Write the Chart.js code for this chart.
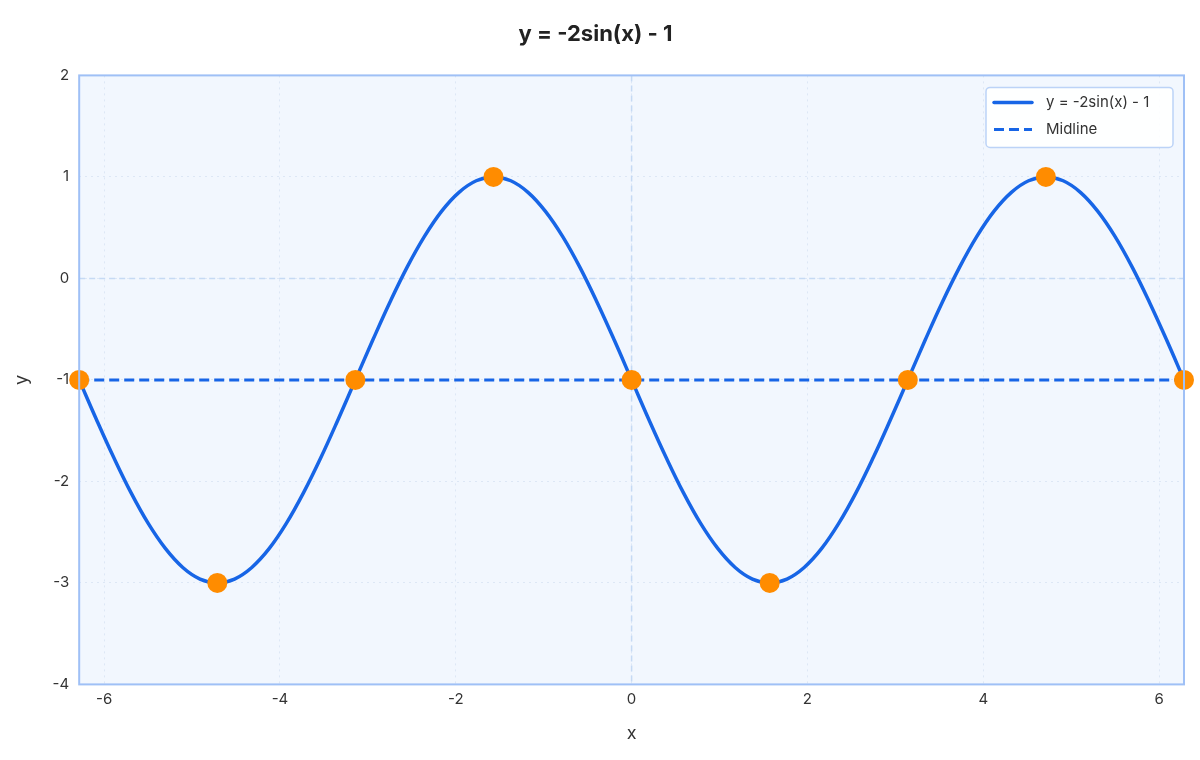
<!DOCTYPE html>
<html>
<head>
<meta charset="utf-8">
<script src="https://cdn.jsdelivr.net/npm/chart.js@4.4.1/dist/chart.umd.min.js"></script>
<style>
  html, body { margin: 0; padding: 0; background: #fff; }
  #wrap { width: 1200px; height: 760px; }
</style>
</head>
<body>
<div id="wrap"><canvas id="c" width="1200" height="760"></canvas></div>
<script>
// curve samples, x in steps of about pi/16
const curveX = [-6.283, -6.087, -5.890, -5.694, -5.498, -5.301, -5.105, -4.909, -4.712, -4.516, -4.320, -4.123, -3.927, -3.731, -3.534, -3.338,
  -3.142, -2.945, -2.749, -2.553, -2.356, -2.160, -1.963, -1.767, -1.571, -1.374, -1.178, -0.982, -0.785, -0.589, -0.393, -0.196,
  0, 0.196, 0.393, 0.589, 0.785, 0.982, 1.178, 1.374, 1.571, 1.767, 1.963, 2.160, 2.356, 2.553, 2.749, 2.945,
  3.142, 3.338, 3.534, 3.731, 3.927, 4.123, 4.320, 4.516, 4.712, 4.909, 5.105, 5.301, 5.498, 5.694, 5.890, 6.087, 6.283];
const curveY = [-1, -1.390, -1.765, -2.111, -2.414, -2.663, -2.848, -2.962, -3, -2.962, -2.848, -2.663, -2.414, -2.111, -1.765, -1.390,
  -1, -0.610, -0.235, 0.111, 0.414, 0.663, 0.848, 0.962, 1, 0.962, 0.848, 0.663, 0.414, 0.111, -0.235, -0.610,
  -1, -1.390, -1.765, -2.111, -2.414, -2.663, -2.848, -2.962, -3, -2.962, -2.848, -2.663, -2.414, -2.111, -1.765, -1.390,
  -1, -0.610, -0.235, 0.111, 0.414, 0.663, 0.848, 0.962, 1, 0.962, 0.848, 0.663, 0.414, 0.111, -0.235, -0.610, -1];

// orange key points
const keyX = [-6.283, -4.712, -3.142, -1.571, 0, 1.571, 3.142, 4.712, 6.283];
const keyY = [-1, -3, -1, 1, -1, -3, -1, 1, -1];

// midline
const midX = [-6.283, 6.283];
const midY = [-1, -1];

const xTicks = [-6, -4, -2, 0, 2, 4, 6];
const yTicks = [-4, -3, -2, -1, 0, 1, 2];

const labels = ['y = -2sin(x) - 1', 'Midline'];

const blue = '#1765e6';
const font = 'Inter, "DejaVu Sans", sans-serif';

function pts(xs, ys) { return xs.map((x, i) => ({ x: x, y: ys[i] })); }

const areaPlugin = {
  id: 'area',
  beforeDatasetsDraw(chart) {
    const { ctx, chartArea: a, scales } = chart;
    ctx.save();
    // zero axis lines
    ctx.strokeStyle = '#c6daf4';
    ctx.lineWidth = 1.5;
    ctx.setLineDash([6, 4]);
    const x0 = scales.x.getPixelForValue(0);
    const y0 = scales.y.getPixelForValue(0);
    ctx.beginPath();
    ctx.moveTo(x0, a.top); ctx.lineTo(x0, a.bottom);
    ctx.moveTo(a.left, y0); ctx.lineTo(a.right, y0);
    ctx.stroke();
    ctx.restore();
  },
  beforeDraw(chart) {
    const { ctx, chartArea: a } = chart;
    ctx.save();
    ctx.fillStyle = '#f2f7fe';
    ctx.fillRect(a.left, a.top, a.right - a.left, a.bottom - a.top);
    ctx.restore();
  },
  afterDraw(chart) {
    const { ctx, chartArea: a } = chart;
    ctx.save();
    ctx.strokeStyle = '#9fc0f6';
    ctx.lineWidth = 2;
    ctx.strokeRect(a.left, a.top, a.right - a.left, a.bottom - a.top);

    // legend box
    const w = 187, h = 60;
    const lx = a.right - 11 - w, ly = a.top + 12;
    ctx.fillStyle = 'rgba(255,255,255,0.9)';
    ctx.strokeStyle = '#bcd3f7';
    ctx.lineWidth = 1.5;
    ctx.beginPath();
    ctx.roundRect(lx, ly, w, h, 4);
    ctx.fill();
    ctx.stroke();
    ctx.font = '15px ' + font;
    ctx.fillStyle = '#333';
    ctx.textBaseline = 'middle';
    ctx.strokeStyle = blue;
    ctx.lineWidth = 3.5;
    ctx.lineCap = 'round';
    ctx.beginPath();
    ctx.moveTo(lx + 8, ly + 15); ctx.lineTo(lx + 46, ly + 15);
    ctx.stroke();
    ctx.lineCap = 'butt';
    ctx.lineWidth = 3;
    ctx.setLineDash([10, 5]);
    ctx.beginPath();
    ctx.moveTo(lx + 8, ly + 42); ctx.lineTo(lx + 46, ly + 42);
    ctx.stroke();
    ctx.setLineDash([]);
    ctx.fillText(labels[0], lx + 60, ly + 15);
    ctx.fillText(labels[1], lx + 60, ly + 42);
    ctx.restore();
  }
};

new Chart(document.getElementById('c'), {
  type: 'scatter',
  data: {
    datasets: [
      {
        label: 'points',
        data: pts(keyX, keyY),
        showLine: false,
        pointRadius: 10,
        pointBackgroundColor: '#ff8c00',
        pointBorderColor: '#ff8c00',
        pointBorderWidth: 0
      },
      {
        label: labels[0],
        data: pts(curveX, curveY),
        showLine: true,
        borderColor: blue,
        borderWidth: 3.5,
        pointRadius: 0,
        tension: 0.4
      },
      {
        label: labels[1],
        data: pts(midX, midY),
        showLine: true,
        borderColor: blue,
        borderWidth: 3,
        borderDash: [10, 5],
        pointRadius: 0
      }
    ]
  },
  options: {
    responsive: false,
    animation: false,
    clip: false,
    layout: { padding: { left: 7, right: 16, top: 8, bottom: 12 } },
    plugins: {
      legend: { display: false },
      tooltip: { enabled: false },
      title: {
        display: true,
        text: 'y = -2sin(x) - 1',
        color: '#222',
        font: { family: font, size: 22, weight: 'bold' },
        padding: { top: 13, bottom: 28 }
      }
    },
    scales: {
      x: {
        type: 'linear',
        min: -6.2832,
        max: 6.2832,
        afterBuildTicks(s) { s.ticks = xTicks.map(v => ({ value: v })); },
        ticks: { color: '#333', font: { family: font, size: 15 }, padding: 6 },
        grid: { color: '#dde7f5', drawTicks: false, lineWidth: 1 },
        border: { display: false, dash: [2, 4] },
        title: { display: true, text: 'x', color: '#333', font: { family: font, size: 18 }, padding: { top: 8 } }
      },
      y: {
        type: 'linear',
        min: -4,
        max: 2,
        afterBuildTicks(s) { s.ticks = yTicks.map(v => ({ value: v })); },
        ticks: { color: '#333', font: { family: font, size: 15 }, padding: 10 },
        grid: { color: '#dde7f5', drawTicks: false, lineWidth: 1 },
        border: { display: false, dash: [2, 4] },
        title: { display: true, text: 'y', color: '#333', font: { family: font, size: 18 }, padding: { bottom: 10 } }
      }
    }
  },
  plugins: [areaPlugin]
});
</script>
</body>
</html>
